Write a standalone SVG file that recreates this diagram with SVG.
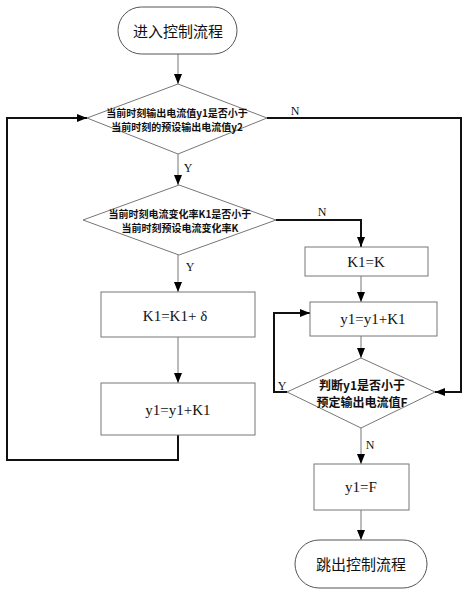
<svg xmlns="http://www.w3.org/2000/svg" width="474" height="601" viewBox="0 0 474 601">
<style>
.shape{fill:#fff;stroke:#777;stroke-width:1}
.term{fill:#fff;stroke:#555;stroke-width:1}
.cn{font-family:"Noto Sans CJK SC","Liberation Serif",serif;fill:#111;text-anchor:middle;dominant-baseline:central}
.en{font-family:"Liberation Serif","Noto Sans CJK SC",serif;fill:#111;text-anchor:middle;dominant-baseline:central}
.lbl{font-family:"Liberation Serif",serif;font-size:12px;fill:#111;text-anchor:middle;dominant-baseline:central}
.thin{fill:none;stroke:#777;stroke-width:1}
.thick{fill:none;stroke:#111;stroke-width:2}
</style>
<defs>
<marker id="ah" markerUnits="userSpaceOnUse" markerWidth="10" markerHeight="10" viewBox="0 0 10 10" refX="10" refY="5" orient="auto">
<path d="M0,1 L10,5 L0,9 Z" fill="#000"/>
</marker>
</defs>
<rect width="474" height="601" fill="#fff"/>
<g id="connectors">
<path class="thin" d="M178,54 V84" marker-end="url(#ah)"/>
<path class="thin" d="M178,154 V185" marker-end="url(#ah)"/>
<path class="thick" d="M267,118 H461 V392 H435" marker-end="url(#ah)"/>
<path class="thick" d="M178,435 V460 H7 V118 H87" marker-end="url(#ah)"/>
<path class="thick" d="M276,220 H361 V247" marker-end="url(#ah)"/>
<path class="thin" d="M178,255 V292" marker-end="url(#ah)"/>
<path class="thin" d="M178,337 V383" marker-end="url(#ah)"/>
<path class="thin" d="M361,276 V302" marker-end="url(#ah)"/>
<path class="thin" d="M361,336 V358" marker-end="url(#ah)"/>
<path class="thick" d="M287,392 H274 V313 H310" marker-end="url(#ah)"/>
<path class="thin" d="M361,428 V464" marker-end="url(#ah)"/>
<path class="thin" d="M361,510 V540" marker-end="url(#ah)"/>
<text class="lbl" x="295" y="111">N</text>
<text class="lbl" x="188" y="168">Y</text>
<text class="lbl" x="322" y="212">N</text>
<text class="lbl" x="190" y="267">Y</text>
<text class="lbl" x="282" y="386">Y</text>
<text class="lbl" x="370" y="445">N</text>
</g>
<g id="start">
<rect class="term" x="118" y="7" width="119" height="47" rx="23.5"/>
<text class="cn" x="178" y="30" font-size="15">进入控制流程</text>
</g>
<g id="decision1">
<polygon class="shape" points="178,84 267,118 178,154 87,118"/>
<text class="cn" x="177" y="112" font-size="10" font-weight="bold">当前时刻输出电流值y1是否小于</text>
<text class="cn" x="177" y="126" font-size="10" font-weight="bold">当前时刻的预设输出电流值y2</text>
</g>
<g id="decision2">
<polygon class="shape" points="179,185 276,220 179,255 83,220"/>
<text class="cn" x="180" y="213" font-size="10" font-weight="bold">当前时刻电流变化率K1是否小于</text>
<text class="cn" x="180" y="227" font-size="10" font-weight="bold">当前时刻预设电流变化率K</text>
</g>
<g id="box-k1-inc">
<rect class="shape" x="101" y="292" width="154" height="45"/>
<text class="en" x="175" y="316" font-size="15">K1=K1+ δ</text>
</g>
<g id="box-y1-left">
<rect class="shape" x="101" y="383" width="154" height="52"/>
<text class="en" x="178" y="410" font-size="15">y1=y1+K1</text>
</g>
<g id="box-k1-k">
<rect class="shape" x="305" y="247" width="123" height="29"/>
<text class="en" x="366" y="262" font-size="15">K1=K</text>
</g>
<g id="box-y1-right">
<rect class="shape" x="310" y="302" width="127" height="34"/>
<text class="en" x="373" y="319" font-size="15">y1=y1+K1</text>
</g>
<g id="decision3">
<polygon class="shape" points="361,358 435,392 361,428 287,392"/>
<text class="cn" x="362" y="384" font-size="12" font-weight="bold">判断y1是否小于</text>
<text class="cn" x="362" y="401" font-size="12" font-weight="bold">预定输出电流值F</text>
</g>
<g id="box-y1-f">
<rect class="shape" x="314" y="464" width="95" height="46"/>
<text class="en" x="361" y="487" font-size="15">y1=F</text>
</g>
<g id="end">
<rect class="term" x="295" y="540" width="132" height="48" rx="24"/>
<text class="cn" x="361" y="563" font-size="15">跳出控制流程</text>
</g>
</svg>
